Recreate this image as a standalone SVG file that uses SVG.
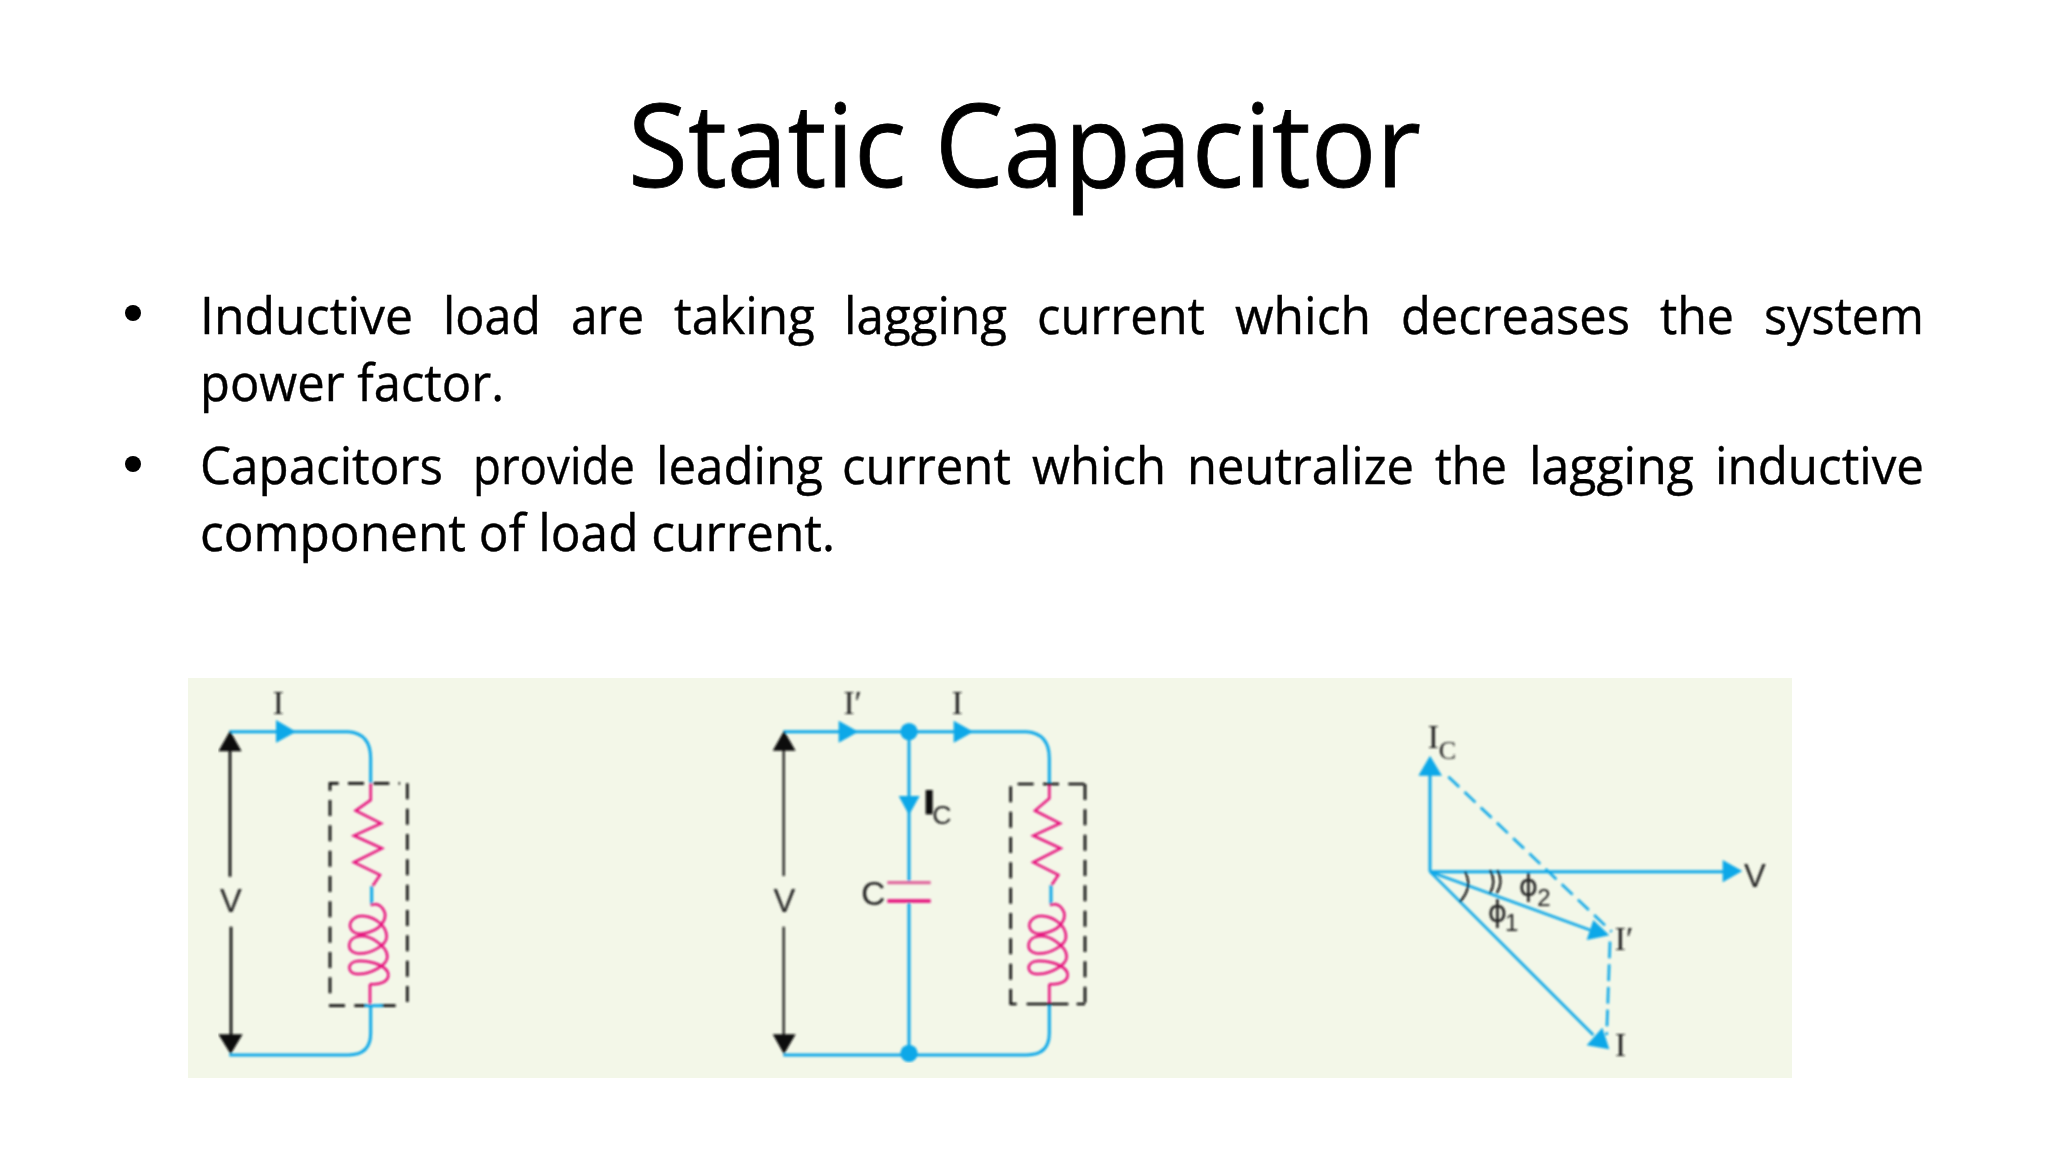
<svg xmlns="http://www.w3.org/2000/svg" xmlns:xlink="http://www.w3.org/1999/xlink" width="2048" height="1152" viewBox="0 0 2048 1152">
<style>
.title{font-family:"Open Sans","Noto Sans",sans-serif;font-size:115px;fill:#000;stroke:#000;stroke-width:.8}
.body{font-family:"Open Sans","Noto Sans",sans-serif;font-size:52px;fill:#000;stroke:#000;stroke-width:.4}
.w{fill:none;stroke:#10a8e8;stroke-width:9}
.wt{fill:none;stroke:#10a8e8;stroke-width:8}
.p{fill:none;stroke:#e60f7c;stroke-width:7.5}
.k{fill:none;stroke:#111;stroke-width:8}
.d{fill:none;stroke:#111;stroke-width:8;stroke-dasharray:48 28}
.bh{fill:#10a8e8}
.kh{fill:#111}
.sf{font-family:"Liberation Serif",serif;fill:#222;font-size:100px;text-anchor:middle}
.ss{font-family:"Liberation Sans",sans-serif;fill:#222;font-size:98px;text-anchor:middle}
</style>
<defs>
<filter id="soft" x="0" y="0" width="1" height="1"><feGaussianBlur stdDeviation="0.9"/></filter>
<path id="coil" d="M572 705C605 695 625 730 610 755C595 785 540 800 520 785C495 765 520 735 550 738C590 742 620 770 620 800C620 825 570 855 530 850C500 845 500 810 530 800C570 790 622 830 622 860C622 885 570 915 530 912C500 910 500 875 535 873C575 870 625 890 625 915C625 935 600 945 570 942"/>
</defs>
<rect width="2048" height="1152" fill="#fff"/>
<g id="heading"><text class="title" x="628" y="187" textLength="793" lengthAdjust="spacingAndGlyphs">Static Capacitor</text></g>
<g id="bullets">
<circle cx="133" cy="313" r="8"/><circle cx="133" cy="464" r="8"/>
<text class="body" y="334"><tspan x="200" textLength="213" lengthAdjust="spacingAndGlyphs">Inductive</tspan><tspan x="443" textLength="98" lengthAdjust="spacingAndGlyphs">load</tspan><tspan x="571" textLength="73" lengthAdjust="spacingAndGlyphs">are</tspan><tspan x="674" textLength="141" lengthAdjust="spacingAndGlyphs">taking</tspan><tspan x="844" textLength="163" lengthAdjust="spacingAndGlyphs">lagging</tspan><tspan x="1037" textLength="168" lengthAdjust="spacingAndGlyphs">current</tspan><tspan x="1235" textLength="136" lengthAdjust="spacingAndGlyphs">which</tspan><tspan x="1401" textLength="229" lengthAdjust="spacingAndGlyphs">decreases</tspan><tspan x="1660" textLength="74" lengthAdjust="spacingAndGlyphs">the</tspan><tspan x="1764" textLength="160" lengthAdjust="spacingAndGlyphs">system</tspan></text>
<text class="body" x="200" y="401" textLength="304" lengthAdjust="spacingAndGlyphs">power factor.</text>
<text class="body" y="484"><tspan x="200" textLength="243" lengthAdjust="spacingAndGlyphs">Capacitors</tspan><tspan x="473" textLength="162" lengthAdjust="spacingAndGlyphs">provide</tspan><tspan x="656" textLength="167" lengthAdjust="spacingAndGlyphs">leading</tspan><tspan x="842" textLength="169" lengthAdjust="spacingAndGlyphs">current</tspan><tspan x="1032" textLength="134" lengthAdjust="spacingAndGlyphs">which</tspan><tspan x="1187" textLength="227" lengthAdjust="spacingAndGlyphs">neutralize</tspan><tspan x="1435" textLength="72" lengthAdjust="spacingAndGlyphs">the</tspan><tspan x="1529" textLength="165" lengthAdjust="spacingAndGlyphs">lagging</tspan><tspan x="1715" textLength="209" lengthAdjust="spacingAndGlyphs">inductive</tspan></text>
<text class="body" x="200" y="551" textLength="635" lengthAdjust="spacingAndGlyphs">component of load current.</text>
</g>
<rect id="panel" x="188" y="678" width="1604" height="400" fill="#f3f7e8"/>
<g id="figures" filter="url(#soft)">
<g id="circuit-1" transform="translate(180 670) scale(.33333)">
<path class="w" d="M148 185H505Q572 190 572 265V340"/>
<path class="w" d="M572 1005V1090Q572 1155 505 1155H148"/>
<path class="w" d="M575 648V703"/>
<path class="p" d="M572 340V390L527 422L603 460L522 497L606 535L522 577L600 615L578 648"/>
<use href="#coil" class="p"/>
<path class="p" d="M570 942V1005"/>
<path class="d" d="M450 970V340H660"/>
<path class="d" d="M682 340V1010"/>
<path class="d" d="M447 1007H655"/>
<path class="w" d="M555 1007H608"/>
<polygon class="bh" points="288,150 348,185 288,218"/>
<path class="k" d="M150 240V620M153 770V1095"/>
<polygon class="kh" points="150,182 115,244 185,244"/>
<polygon class="kh" points="115,1093 188,1093 152,1153"/>
<text class="sf" x="295" y="132">I</text>
<text class="ss" x="153" y="727">V</text>
</g>
<g id="circuit-2" transform="translate(740 670) scale(.33333)">
<path class="w" d="M130 185H860Q928 190 928 265V340"/>
<path class="w" d="M928 1005V1090Q928 1155 860 1155H130"/>
<path class="w" d="M507 185V636M507 695V1150"/>
<path class="w" d="M933 645V703"/>
<circle class="bh" cx="507" cy="185" r="26"/>
<circle class="bh" cx="507" cy="1150" r="26"/>
<path class="p" d="M928 340V385L885 422L960 460L880 497L962 535L880 577L955 615L935 645"/>
<use href="#coil" class="p" transform="translate(358 0)"/>
<path class="p" d="M928 942V1000"/>
<path d="M442 638H572" fill="none" stroke="#e0689e" stroke-width="10"/>
<path d="M442 693H572" fill="none" stroke="#e60f7c" stroke-width="10"/>
<path class="d" d="M812 1005V342H1035"/>
<path class="d" d="M1035 342V1005"/>
<path class="k" d="M812 1002H830M860 1002H985M1010 1002H1035"/>
<polygon class="bh" points="296,152 355,185 296,218"/>
<polygon class="bh" points="641,152 700,185 641,218"/>
<polygon class="bh" points="476,378 539,378 507,435"/>
<path class="k" style="stroke-width:6.5" d="M131 240V618M131 770V1095"/>
<polygon class="kh" points="132,182 98,242 167,242"/>
<polygon class="kh" points="98,1093 167,1093 132,1153"/>
<text class="sf" x="338" y="132">I′</text>
<text class="sf" x="652" y="132">I</text>
<rect class="kh" x="557" y="360" width="21" height="73"/>
<text class="ss" x="606" y="462" style="font-size:80px">C</text>
<text class="ss" x="400" y="705" style="font-size:100px">C</text>
<text class="ss" x="133" y="727">V</text>
</g>
<g id="phasor" transform="translate(1380 700) scale(.33333)">
<path class="w" d="M150 515V220"/>
<path class="w" d="M150 515H1030"/>
<path class="wt" d="M150 515L630 690"/>
<path class="wt" d="M150 515L640 1005"/>
<path class="wt" d="M205 230L695 695" style="stroke-dasharray:45 22"/>
<path class="wt" d="M690 725L680 1005" style="stroke-dasharray:50 18"/>
<polygon class="bh" points="150,167 115,227 186,227"/>
<polygon class="bh" points="1028,480 1087,513 1028,547"/>
<polygon class="bh" points="688,706 640,660 620,720"/>
<polygon class="bh" points="688,1048 667,983 620,1036"/>
<path class="k" style="stroke-width:6.5" d="M255 515Q280 560 240 605M330 510Q350 545 330 580M352 510Q372 545 350 580"/>
<text class="sf" x="160" y="145">I</text>
<text class="sf" x="202" y="177" style="font-size:78px">C</text>
<text class="ss" x="1125" y="562">V</text>
<text class="ss" x="445" y="587" style="font-size:88px;font-family:'DejaVu Sans',sans-serif">ϕ</text>
<text class="ss" x="492" y="617" style="font-size:72px">2</text>
<text class="ss" x="352" y="667" style="font-size:88px;font-family:'DejaVu Sans',sans-serif">ϕ</text>
<text class="ss" x="395" y="694" style="font-size:72px">1</text>
<text class="sf" x="732" y="749">I′</text>
<text class="sf" x="722" y="1067">I</text>
</g>
</g>
</svg>
